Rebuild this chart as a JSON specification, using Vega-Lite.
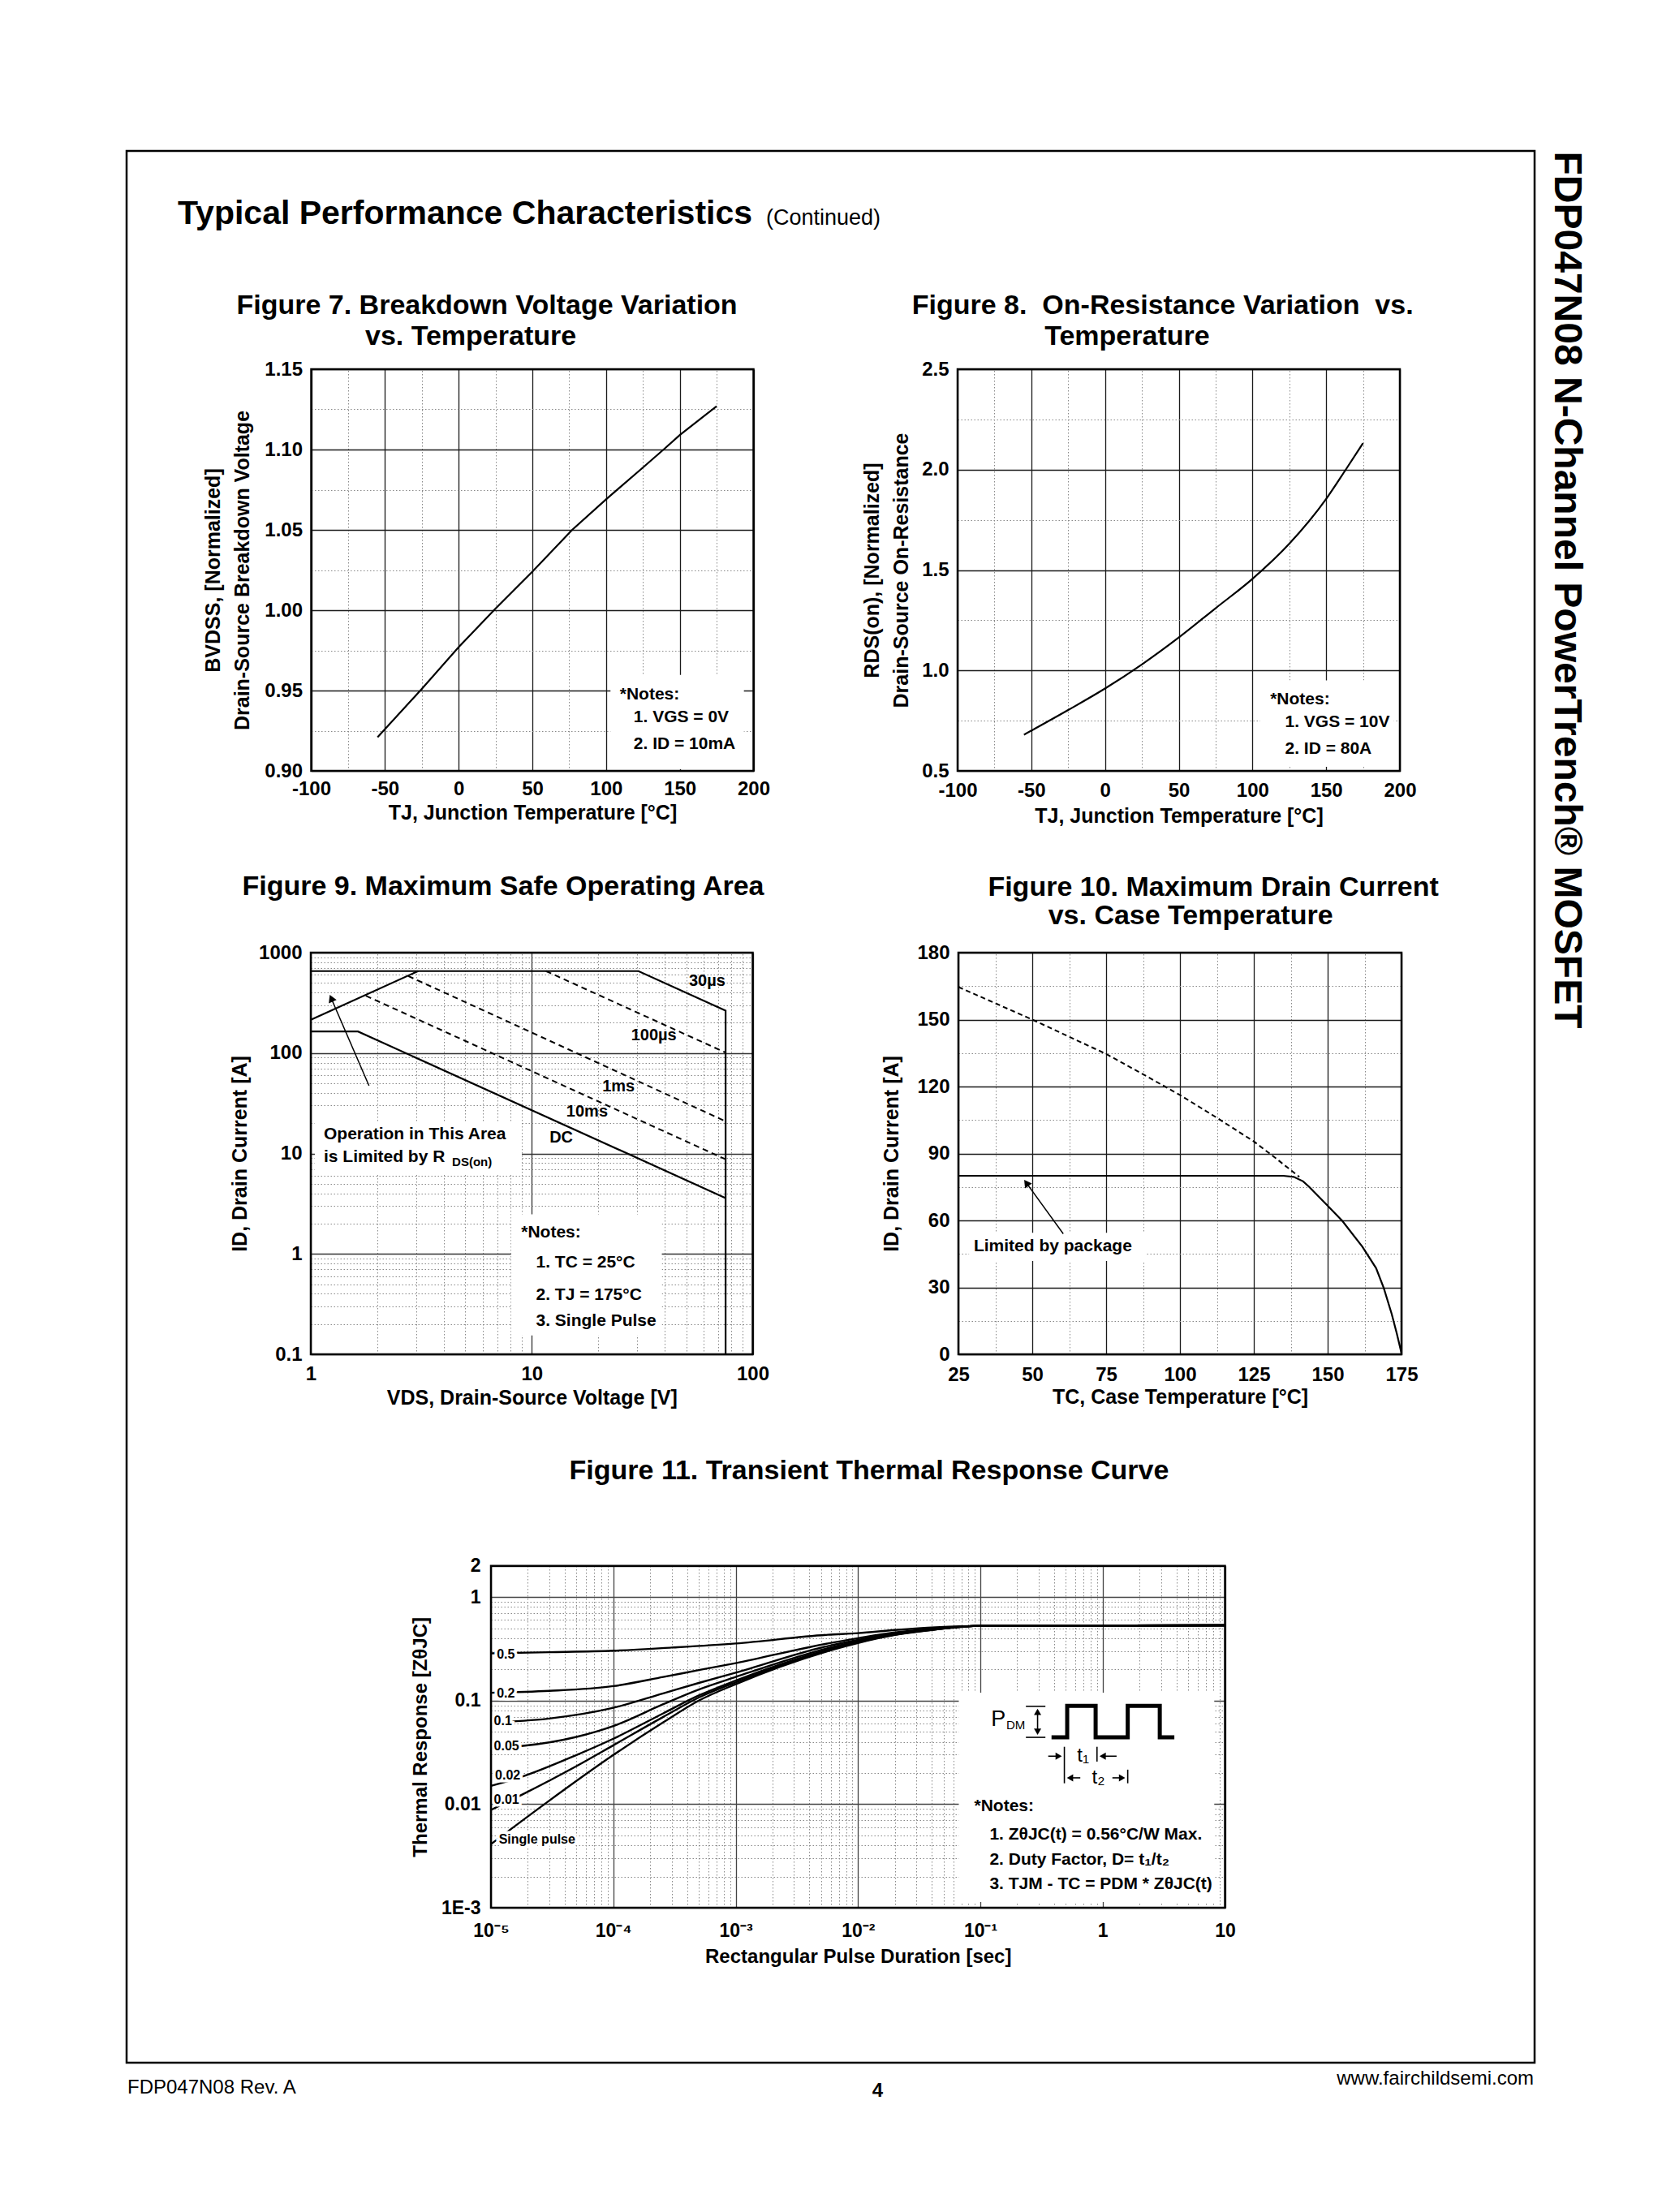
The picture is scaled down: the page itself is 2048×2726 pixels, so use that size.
{
"$schema": "https://vega.github.io/schema/vega-lite/v6.json",
"width": 1735,
"height": 2356,
"autosize": {"type": "none"},
"padding": {"left": 156, "top": 186, "right": 157, "bottom": 184},
"background": "white",
"config": {
  "font": "Liberation Sans",
  "view": {"stroke": "black", "strokeWidth": 2.5},
  "axis": {"labelFont": "Liberation Sans", "titleFont": "Liberation Sans", "labelColor": "black", "titleColor": "black", "labelFontWeight": "bold", "titleFontWeight": "bold", "ticks": false, "domain": false, "grid": false, "labelFlush": false, "labelOverlap": false, "labelBound": false},
  "text": {"font": "Liberation Sans", "fontWeight": "bold", "color": "black", "baseline": "middle"},
  "line": {"color": "black"}
},
"datasets": {
  "f7c": [{"x":-55,"y":0.921},{"x":-25,"y":0.951},{"x":0,"y":0.977},{"x":25,"y":1.001},{"x":50,"y":1.024},{"x":77,"y":1.05},{"x":100,"y":1.069},{"x":124,"y":1.088},{"x":139,"y":1.1},{"x":150,"y":1.109},{"x":175,"y":1.127}],
  "f7frame": [{"x":-100,"x2":200,"y":0.9,"y2":1.15}],
  "f7box": [{"x":103,"x2":193.5,"y":0.901,"y2":0.9597}],
  "f7notes": [{"x":109.3,"y":0.9473,"text":"*Notes:"},{"x":118.7,"y":0.9331,"text":"1. VGS = 0V"},{"x":118.7,"y":0.9167,"text":"2. ID = 10mA"}],
  "f7title": [{"x":19.2,"y":1.1894,"text":"Figure 7. Breakdown Voltage Variation"},{"x":8.2,"y":1.1702,"text":"vs. Temperature"}],
  "pagetitle": [{"x":-190.5,"y":1.2465,"text":"Typical Performance Characteristics"}],
  "pagesub": [{"x":208.5,"y":1.244,"text":"(Continued)"}],
  "f8c": [{"x":-55,"y":0.68},{"x":-25,"y":0.803},{"x":0,"y":0.91},{"x":25,"y":1.03},{"x":50,"y":1.164},{"x":75,"y":1.31},{"x":100,"y":1.456},{"x":125,"y":1.631},{"x":150,"y":1.854},{"x":163.3,"y":2.0},{"x":175,"y":2.132}],
  "f8frame": [{"x":-100,"x2":200,"y":0.5,"y2":2.5}],
  "f8box": [{"x":105.3,"x2":196,"y":0.52,"y2":0.951}],
  "f8notes": [{"x":112,"y":0.857,"text":"*Notes:"},{"x":122.1,"y":0.744,"text":"1. VGS = 10V"},{"x":122.1,"y":0.608,"text":"2. ID = 80A"}],
  "f8title": [{"x":39.1,"y":2.815,"text":"Figure 8.\u00a0 On-Resistance Variation\u00a0 vs."},{"x":15.0,"y":2.6616,"text":"Temperature"}],
  "sidetitle": [{"x":312.8,"y":1.401,"text":"FDP047N08 N-Channel PowerTrench® MOSFET"}],
  "f9solid": [{"g":"env","o":0,"x":1,"y":655},{"g":"env","o":1,"x":30.4,"y":655},{"g":"env","o":2,"x":75.4,"y":265},{"g":"env","o":3,"x":75.4,"y":0.1},{"g":"rds","o":0,"x":1,"y":214},{"g":"rds","o":1,"x":3.06,"y":655},{"g":"dc","o":0,"x":1,"y":164},{"g":"dc","o":1,"x":1.635,"y":164},{"g":"dc","o":2,"x":75.4,"y":3.6}],
  "f9dash": [{"g":"a","o":0,"x":11.6,"y":655},{"g":"a","o":1,"x":75.4,"y":101},{"g":"b","o":0,"x":2.76,"y":585},{"g":"b","o":1,"x":75.4,"y":20.9},{"g":"c","o":0,"x":1.775,"y":372},{"g":"c","o":1,"x":75.4,"y":8.75}],
  "f9arrow": [{"o":0,"x":1.834,"y":47.3},{"o":1,"x":1.237,"y":351}],
  "f9head": [{"x":1.237,"y":351}],
  "f9lab": [{"x":62.2,"y":523,"text":"30µs"},{"x":35.7,"y":151,"text":"100µs"},{"x":24.7,"y":46.4,"text":"1ms"},{"x":17.8,"y":25.9,"text":"10ms"},{"x":13.6,"y":14.5,"text":"DC"}],
  "f9op": [{"x":1.145,"y":15.4,"text":"Operation in This Area"},{"x":1.145,"y":9.16,"text":"is Limited by R"}],
  "f9sub": [{"x":4.36,"y":8.26,"text":"DS(on)"}],
  "f9box": [{"x":1.043,"x2":9.02,"y":6.29,"y2":20.6},{"x":8.06,"x2":38.8,"y":0.154,"y2":2.48}],
  "f9notes": [{"x":8.96,"y":1.62,"text":"*Notes:"},{"x":10.45,"y":0.823,"text":"1. TC = 25°C"},{"x":10.45,"y":0.39,"text":"2. TJ = 175°C"},{"x":10.45,"y":0.2134,"text":"3. Single Pulse"}],
  "f9title": [{"x":7.42,"y":4498,"text":"Figure 9. Maximum Safe Operating Area"}],
  "f9frame": [{"x":1,"x2":100,"y":0.1,"y2":1000}],
  "f10solid": [{"x":25,"y":80},{"x":135,"y":80},{"x":138.5,"y":79.5},{"x":141.7,"y":77.5},{"x":143.7,"y":75.1},{"x":149.7,"y":67},{"x":155,"y":59.7},{"x":161.7,"y":48.3},{"x":166.4,"y":38.6},{"x":169,"y":29.7},{"x":171.7,"y":18},{"x":173.4,"y":9.4},{"x":175,"y":0.5}],
  "f10dash": [{"x":25,"y":164.6},{"x":37.5,"y":157.3},{"x":50,"y":150},{"x":62.5,"y":142.3},{"x":75,"y":134.6},{"x":87.5,"y":125.5},{"x":100,"y":116.2},{"x":112.5,"y":106},{"x":125,"y":95.4},{"x":132.5,"y":87.8},{"x":140.4,"y":79.5}],
  "f10arrow": [{"o":0,"x":60.5,"y":54},{"o":1,"x":48.0,"y":76.8}],
  "f10head": [{"x":48.0,"y":76.8}],
  "f10lab": [{"x":30.2,"y":48.3,"text":"Limited by package"}],
  "f10box": [{"x":28.6,"x2":88.5,"y":41.8,"y2":54.5}],
  "f10title": [{"x":111.3,"y":209.2,"text":"Figure 10. Maximum Drain Current"},{"x":103.6,"y":196.4,"text":"vs. Case Temperature"}],
  "f10frame": [{"x":25,"x2":175,"y":0,"y2":180}],
  "f11c": [
    {"g":"0.5","x":0.00001,"y":0.286},{"g":"0.5","x":0.00003,"y":0.293},{"g":"0.5","x":0.0001,"y":0.303},{"g":"0.5","x":0.0003,"y":0.325},{"g":"0.5","x":0.001,"y":0.356},{"g":"0.5","x":0.00566,"y":0.432},{"g":"0.5","x":0.01,"y":0.448},{"g":"0.5","x":0.02,"y":0.48},{"g":"0.5","x":0.043,"y":0.51},{"g":"0.5","x":0.1,"y":0.527},{"g":"0.5","x":10,"y":0.533},
    {"g":"0.2","x":0.00001,"y":0.119},{"g":"0.2","x":0.00003,"y":0.124},{"g":"0.2","x":0.0001,"y":0.138},{"g":"0.2","x":0.000256,"y":0.169},{"g":"0.2","x":0.0005,"y":0.197},{"g":"0.2","x":0.001,"y":0.23},{"g":"0.2","x":0.00566,"y":0.356},{"g":"0.2","x":0.01,"y":0.4},{"g":"0.2","x":0.02,"y":0.455},{"g":"0.2","x":0.043,"y":0.497},{"g":"0.2","x":0.1,"y":0.527},{"g":"0.2","x":10,"y":0.533},
    {"g":"0.1","x":0.00001,"y":0.0616},{"g":"0.1","x":0.000029,"y":0.0668},{"g":"0.1","x":0.0001,"y":0.0851},{"g":"0.1","x":0.000256,"y":0.1175},{"g":"0.1","x":0.0005,"y":0.148},{"g":"0.1","x":0.001,"y":0.186},{"g":"0.1","x":0.00566,"y":0.336},{"g":"0.1","x":0.01,"y":0.385},{"g":"0.1","x":0.02,"y":0.445},{"g":"0.1","x":0.043,"y":0.492},{"g":"0.1","x":0.1,"y":0.527},{"g":"0.1","x":10,"y":0.533},
    {"g":"0.05","x":0.00001,"y":0.035},{"g":"0.05","x":0.0000177,"y":0.0364},{"g":"0.05","x":0.00005,"y":0.0446},{"g":"0.05","x":0.0001,"y":0.0568},{"g":"0.05","x":0.000256,"y":0.0923},{"g":"0.05","x":0.0005,"y":0.128},{"g":"0.05","x":0.001,"y":0.169},{"g":"0.05","x":0.00566,"y":0.32},{"g":"0.05","x":0.01,"y":0.375},{"g":"0.05","x":0.02,"y":0.44},{"g":"0.05","x":0.043,"y":0.49},{"g":"0.05","x":0.1,"y":0.527},{"g":"0.05","x":10,"y":0.533},
    {"g":"0.02","x":0.00001,"y":0.015},{"g":"0.02","x":0.0000177,"y":0.0183},{"g":"0.02","x":0.00005,"y":0.0298},{"g":"0.02","x":0.0001,"y":0.0428},{"g":"0.02","x":0.000256,"y":0.0753},{"g":"0.02","x":0.0005,"y":0.112},{"g":"0.02","x":0.001,"y":0.156},{"g":"0.02","x":0.00566,"y":0.31},{"g":"0.02","x":0.01,"y":0.37},{"g":"0.02","x":0.02,"y":0.435},{"g":"0.02","x":0.043,"y":0.488},{"g":"0.02","x":0.1,"y":0.527},{"g":"0.02","x":10,"y":0.533},
    {"g":"0.01","x":0.00001,"y":0.0088},{"g":"0.01","x":0.0000177,"y":0.01225},{"g":"0.01","x":0.00005,"y":0.0233},{"g":"0.01","x":0.0001,"y":0.037},{"g":"0.01","x":0.000256,"y":0.0695},{"g":"0.01","x":0.0005,"y":0.107},{"g":"0.01","x":0.001,"y":0.15},{"g":"0.01","x":0.00566,"y":0.305},{"g":"0.01","x":0.01,"y":0.365},{"g":"0.01","x":0.02,"y":0.432},{"g":"0.01","x":0.043,"y":0.486},{"g":"0.01","x":0.1,"y":0.527},{"g":"0.01","x":10,"y":0.533},
    {"g":"sp","x":0.00001,"y":0.00411},{"g":"sp","x":0.0000274,"y":0.01},{"g":"sp","x":0.0001,"y":0.0298},{"g":"sp","x":0.000256,"y":0.0616},{"g":"sp","x":0.0005,"y":0.1},{"g":"sp","x":0.001,"y":0.144},{"g":"sp","x":0.00566,"y":0.3},{"g":"sp","x":0.01,"y":0.36},{"g":"sp","x":0.02,"y":0.43},{"g":"sp","x":0.043,"y":0.485},{"g":"sp","x":0.1,"y":0.527},{"g":"sp","x":10,"y":0.533}
  ],
  "f11lab": [{"x":0.00001115,"y":0.279,"text":"0.5"},{"x":0.00001115,"y":0.1175,"text":"0.2"},{"x":0.00001056,"y":0.0631,"text":"0.1"},{"x":0.00001056,"y":0.0364,"text":"0.05"},{"x":0.0000108,"y":0.0191,"text":"0.02"},{"x":0.00001056,"y":0.011,"text":"0.01"},{"x":0.00001159,"y":0.00453,"text":"Single pulse"}],
  "f11box": [{"x":0.0667,"x2":8.17,"y":0.001135,"y2":0.119}],
  "f11notes": [{"x":0.0892,"y":0.00955,"text":"*Notes:"},{"x":0.119,"y":0.00509,"text":"1. ZθJC(t) = 0.56°C/W Max."},{"x":0.119,"y":0.002877,"text":"2. Duty Factor, D= t₁/t₂"},{"x":0.119,"y":0.001675,"text":"3. TJM - TC = PDM * ZθJC(t)"}],
  "f11wave": [{"o":0,"x":0.382,"y":0.04416},{"o":1,"x":0.513,"y":0.04416},{"o":2,"x":0.513,"y":0.0891},{"o":3,"x":0.876,"y":0.0891},{"o":4,"x":0.876,"y":0.04416},{"o":5,"x":1.603,"y":0.04416},{"o":6,"x":1.603,"y":0.0891},{"o":7,"x":2.93,"y":0.0891},{"o":8,"x":2.93,"y":0.04416},{"o":9,"x":3.855,"y":0.04416}],
  "f11seg": [
    {"g":"pv","o":0,"x":0.2938,"y":0.0501},{"g":"pv","o":1,"x":0.2938,"y":0.0777},
    {"g":"pt","o":0,"x":0.2358,"y":0.0881},{"g":"pt","o":1,"x":0.3404,"y":0.0881},
    {"g":"pb","o":0,"x":0.2358,"y":0.04416},{"g":"pb","o":1,"x":0.3404,"y":0.04416},
    {"g":"v1","o":0,"x":0.4864,"y":0.0159},{"g":"v1","o":1,"x":0.4864,"y":0.0358},
    {"g":"v2","o":0,"x":0.899,"y":0.02576},{"g":"v2","o":1,"x":0.899,"y":0.0358},
    {"g":"v3","o":0,"x":1.603,"y":0.0159},{"g":"v3","o":1,"x":1.603,"y":0.02153},
    {"g":"a1","o":0,"x":0.359,"y":0.02904},{"g":"a1","o":1,"x":0.437,"y":0.02904},
    {"g":"a2","o":0,"x":1.2996,"y":0.02904},{"g":"a2","o":1,"x":1.0,"y":0.02904},
    {"g":"a3","o":0,"x":0.6565,"y":0.01795},{"g":"a3","o":1,"x":0.541,"y":0.01795},
    {"g":"a4","o":0,"x":1.2009,"y":0.01795},{"g":"a4","o":1,"x":1.441,"y":0.01795}
  ],
  "f11heads": [{"x":0.2938,"y":0.0777,"dir":"up"},{"x":0.2938,"y":0.0501,"dir":"down"},{"x":0.437,"y":0.02904,"dir":"right"},{"x":1.0,"y":0.02904,"dir":"left"},{"x":0.541,"y":0.01795,"dir":"left"},{"x":1.441,"y":0.01795,"dir":"right"}],
  "f11t": [{"x":0.692,"y":0.02904,"text":"t₁"},{"x":0.9234,"y":0.01795,"text":"t₂"}],
  "f11P": [{"x":0.1222,"y":0.0653,"text":"P"}],
  "f11DM": [{"x":0.163,"y":0.0579,"text":"DM"}],
  "f11title": [{"x":0.01233,"y":16.43,"text":"Figure 11. Transient Thermal Response Curve"}],
  "f11frame": [{"x":0.00001,"x2":10,"y":0.001,"y2":2}],
  "footL": [{"x":1.067e-8,"y":0.00001817,"text":"FDP047N08 Rev. A"}],
  "footC": [{"x":0.01445,"y":0.0000171,"text":"4"}],
  "footR": [{"x":3342,"y":0.0000222,"text":"www.fairchildsemi.com"}]
},
"layer": [
{
  "encoding": {
    "x": {"field":"x","type":"quantitative","scale":{"domain":[-100,200],"range":[227.5,772.5],"nice":false,"zero":false},"axis":null},
    "y": {"field":"y","type":"quantitative","scale":{"domain":[0.9,1.15],"range":[764,269],"nice":false,"zero":false},"axis":null}
  },
  "layer": [
    {"data":{"name":"f7c"},"mark":{"type":"line","strokeWidth":2.2,"color":"black"},
     "encoding":{
       "x":{"field":"x","type":"quantitative","scale":{"domain":[-100,200],"range":[227.5,772.5],"nice":false,"zero":false},"axis":{"orient":"bottom","offset":-1592,"values":[-100,-50,0,50,100,150,200],"labelExpr":"datum.value < 0 ? '-' + format(-datum.value, 'd') : format(datum.value, 'd')","labelFontSize":24,"labelPadding":10,"title":"TJ, Junction Temperature [°C]","titleFontSize":25,"titlePadding":5}},
       "y":{"field":"y","type":"quantitative","scale":{"domain":[0.9,1.15],"range":[764,269],"nice":false,"zero":false},"axis":{"orient":"left","offset":-227.5,"values":[0.9,0.95,1,1.05,1.1,1.15],"format":".2f","labelFontSize":24,"labelPadding":11,"title":["BVDSS, [Normalized]","Drain-Source Breakdown Voltage"],"titleFontSize":25,"titlePadding":14,"titleLineHeight":36,"grid":true,"gridColor":"#1a1a1a","gridWidth":1.3}}
     }},
    {"data":{"name":"f7box"},"mark":{"type":"rect","color":"white"},
     "encoding":{
       "x":{"field":"x","type":"quantitative","scale":{"domain":[-100,200],"range":[227.5,772.5],"nice":false,"zero":false},"axis":{"orient":"top","grid":true,"gridColor":"#888","gridDash":[1.5,2.5],"gridWidth":1,"labels":false,"ticks":false,"domain":false,"title":null,"values":[-75,-25,25,75,125,175]}},
       "x2":{"field":"x2"},
       "y":{"field":"y","type":"quantitative","scale":{"domain":[0.9,1.15],"range":[764,269],"nice":false,"zero":false},"axis":{"orient":"left","offset":-227.5,"grid":true,"gridColor":"#888","gridDash":[1.5,2.5],"gridWidth":1,"labels":false,"ticks":false,"domain":false,"title":null,"values":[0.925,0.975,1.025,1.075,1.125]}},
       "y2":{"field":"y2"}
     }},
    {"data":{"name":"f7notes"},"mark":{"type":"text","align":"left","fontSize":21},
     "encoding":{
       "x":{"field":"x","type":"quantitative","scale":{"domain":[-100,200],"range":[227.5,772.5],"nice":false,"zero":false},"axis":{"orient":"top","grid":true,"gridColor":"#1a1a1a","gridWidth":1.3,"labels":false,"ticks":false,"domain":false,"title":null,"values":[-100,-50,0,50,100,150,200]}},
       "text":{"field":"text"}
     }},
    {"data":{"name":"f7title"},"mark":{"type":"text","align":"center","fontSize":34},"encoding":{"text":{"field":"text"}}},
    {"data":{"name":"pagetitle"},"mark":{"type":"text","align":"left","fontSize":41},"encoding":{"text":{"field":"text"}}},
    {"data":{"name":"pagesub"},"mark":{"type":"text","align":"left","fontSize":27,"fontWeight":"normal"},"encoding":{"text":{"field":"text"}}},
    {"data":{"name":"f7frame"},"mark":{"type":"rect","fillOpacity":0,"stroke":"black","strokeWidth":2.5},"encoding":{"x2":{"field":"x2"},"y2":{"field":"y2"}}}
  ],
  "resolve": {"axis": {"x":"independent","y":"independent"}}
},
{
  "encoding": {
    "x": {"field":"x","type":"quantitative","scale":{"domain":[-100,200],"range":[1024,1569],"nice":false,"zero":false},"axis":null},
    "y": {"field":"y","type":"quantitative","scale":{"domain":[0.5,2.5],"range":[764,269],"nice":false,"zero":false},"axis":null}
  },
  "layer": [
    {"data":{"name":"f8c"},"mark":{"type":"line","strokeWidth":2.2,"color":"black","interpolate":"monotone"},
     "encoding":{
       "x":{"field":"x","type":"quantitative","scale":{"domain":[-100,200],"range":[1024,1569],"nice":false,"zero":false},"axis":{"orient":"bottom","offset":-1592,"values":[-100,-50,0,50,100,150,200],"labelExpr":"datum.value < 0 ? '-' + format(-datum.value, 'd') : format(datum.value, 'd')","labelFontSize":24,"labelPadding":12,"title":"TJ, Junction Temperature [°C]","titleFontSize":25,"titlePadding":7}},
       "y":{"field":"y","type":"quantitative","scale":{"domain":[0.5,2.5],"range":[764,269],"nice":false,"zero":false},"axis":{"orient":"left","offset":-1024,"values":[0.5,1,1.5,2,2.5],"format":".1f","labelFontSize":24,"labelPadding":11,"title":["RDS(on), [Normalized]","Drain-Source On-Resistance"],"titleFontSize":25,"titlePadding":12,"titleLineHeight":36,"grid":true,"gridColor":"#1a1a1a","gridWidth":1.3}}
     }},
    {"data":{"name":"f8box"},"mark":{"type":"rect","color":"white"},
     "encoding":{
       "x":{"field":"x","type":"quantitative","scale":{"domain":[-100,200],"range":[1024,1569],"nice":false,"zero":false},"axis":{"orient":"top","grid":true,"gridColor":"#888","gridDash":[1.5,2.5],"gridWidth":1,"labels":false,"ticks":false,"domain":false,"title":null,"values":[-75,-25,25,75,125,175]}},
       "x2":{"field":"x2"},
       "y":{"field":"y","type":"quantitative","scale":{"domain":[0.5,2.5],"range":[764,269],"nice":false,"zero":false},"axis":{"orient":"left","offset":-1024,"grid":true,"gridColor":"#888","gridDash":[1.5,2.5],"gridWidth":1,"labels":false,"ticks":false,"domain":false,"title":null,"values":[0.75,1.25,1.75,2.25]}},
       "y2":{"field":"y2"}
     }},
    {"data":{"name":"f8notes"},"mark":{"type":"text","align":"left","fontSize":21},
     "encoding":{
       "x":{"field":"x","type":"quantitative","scale":{"domain":[-100,200],"range":[1024,1569],"nice":false,"zero":false},"axis":{"orient":"top","grid":true,"gridColor":"#1a1a1a","gridWidth":1.3,"labels":false,"ticks":false,"domain":false,"title":null,"values":[-100,-50,0,50,100,150,200]}},
       "text":{"field":"text"}
     }},
    {"data":{"name":"f8title"},"mark":{"type":"text","align":"center","fontSize":34},"encoding":{"text":{"field":"text"}}},
    {"data":{"name":"sidetitle"},"mark":{"type":"text","align":"center","angle":90,"fontSize":48},"encoding":{"text":{"field":"text"}}},
    {"data":{"name":"f8frame"},"mark":{"type":"rect","fillOpacity":0,"stroke":"black","strokeWidth":2.5},"encoding":{"x2":{"field":"x2"},"y2":{"field":"y2"}}}
  ],
  "resolve": {"axis": {"x":"independent","y":"independent"}}
},
{
  "encoding": {
    "x": {"field":"x","type":"quantitative","scale":{"type":"log","domain":[1,100],"range":[227,771.5],"nice":false},"axis":null},
    "y": {"field":"y","type":"quantitative","scale":{"type":"log","domain":[0.1,1000],"range":[1483,988],"nice":false},"axis":null}
  },
  "layer": [
    {"data":{"name":"f9box"},"mark":{"type":"rect","color":"white"},
     "encoding":{
       "x":{"field":"x","type":"quantitative","scale":{"type":"log","domain":[1,100],"range":[227,771.5],"nice":false},"axis":{"orient":"top","grid":true,"gridColor":"#888","gridDash":[1.5,2.5],"gridWidth":1,"labels":false,"ticks":false,"domain":false,"title":null,"values":[2,3,4,5,6,7,8,9,20,30,40,50,60,70,80,90]}},
       "x2":{"field":"x2"},
       "y":{"field":"y","type":"quantitative","scale":{"type":"log","domain":[0.1,1000],"range":[1483,988],"nice":false},"axis":{"orient":"left","offset":-227,"grid":true,"gridColor":"#888","gridDash":[1.5,2.5],"gridWidth":1,"labels":false,"ticks":false,"domain":false,"title":null,"values":[0.2,0.3,0.4,0.5,0.6,0.7,0.8,0.9,2,3,4,5,6,7,8,9,20,30,40,50,60,70,80,90,200,300,400,500,600,700,800,900]}},
       "y2":{"field":"y2"}
     }},
    {"data":{"name":"f9solid"},"mark":{"type":"line","strokeWidth":2.2,"color":"black"},
     "encoding":{
       "x":{"field":"x","type":"quantitative","scale":{"type":"log","domain":[1,100],"range":[227,771.5],"nice":false},"axis":{"orient":"bottom","offset":-873,"values":[1,10,100],"format":"~g","labelFontSize":24,"labelPadding":12,"title":"VDS, Drain-Source Voltage [V]","titleFontSize":25,"titlePadding":5}},
       "y":{"field":"y","type":"quantitative","scale":{"type":"log","domain":[0.1,1000],"range":[1483,988],"nice":false},"axis":{"orient":"left","offset":-227,"values":[0.1,1,10,100,1000],"format":"~g","labelFontSize":24,"labelPadding":11,"title":"ID, Drain Current [A]","titleFontSize":25,"titlePadding":10,"grid":true,"gridColor":"#333","gridWidth":1.3}},
       "detail":{"field":"g"},
       "order":{"field":"o"}
     }},
    {"data":{"name":"f9dash"},"mark":{"type":"line","strokeWidth":2,"color":"black","strokeDash":[7,5]},
     "encoding":{
       "x":{"field":"x","type":"quantitative","scale":{"type":"log","domain":[1,100],"range":[227,771.5],"nice":false},"axis":{"orient":"top","grid":true,"gridColor":"#333","gridWidth":1.3,"labels":false,"ticks":false,"domain":false,"title":null,"values":[1,10,100]}},
       "detail":{"field":"g"},
       "order":{"field":"o"}
     }},
    {"data":{"name":"f9arrow"},"mark":{"type":"line","strokeWidth":1.5,"color":"black"},"encoding":{"order":{"field":"o"}}},
    {"data":{"name":"f9head"},"mark":{"type":"point","shape":"triangle-up","filled":true,"size":110,"angle":336.7,"color":"black","opacity":1}},
    {"data":{"name":"f9lab"},"mark":{"type":"text","align":"center","fontSize":20},"encoding":{"text":{"field":"text"}}},
    {"data":{"name":"f9op"},"mark":{"type":"text","align":"left","fontSize":21},"encoding":{"text":{"field":"text"}}},
    {"data":{"name":"f9sub"},"mark":{"type":"text","align":"left","fontSize":15},"encoding":{"text":{"field":"text"}}},
    {"data":{"name":"f9notes"},"mark":{"type":"text","align":"left","fontSize":21},"encoding":{"text":{"field":"text"}}},
    {"data":{"name":"f9title"},"mark":{"type":"text","align":"center","fontSize":34},"encoding":{"text":{"field":"text"}}},
    {"data":{"name":"f9frame"},"mark":{"type":"rect","fillOpacity":0,"stroke":"black","strokeWidth":2.5},"encoding":{"x2":{"field":"x2"},"y2":{"field":"y2"}}}
  ],
  "resolve": {"axis": {"x":"independent","y":"independent"}}
},
{
  "encoding": {
    "x": {"field":"x","type":"quantitative","scale":{"domain":[25,175],"range":[1025,1571],"nice":false,"zero":false},"axis":null},
    "y": {"field":"y","type":"quantitative","scale":{"domain":[0,180],"range":[1483,988],"nice":false,"zero":false},"axis":null}
  },
  "layer": [
    {"data":{"name":"f10box"},"mark":{"type":"rect","color":"white"},
     "encoding":{
       "x":{"field":"x","type":"quantitative","scale":{"domain":[25,175],"range":[1025,1571],"nice":false,"zero":false},"axis":{"orient":"top","grid":true,"gridColor":"#888","gridDash":[1.5,2.5],"gridWidth":1,"labels":false,"ticks":false,"domain":false,"title":null,"values":[37.5,62.5,87.5,112.5,137.5,162.5]}},
       "x2":{"field":"x2"},
       "y":{"field":"y","type":"quantitative","scale":{"domain":[0,180],"range":[1483,988],"nice":false,"zero":false},"axis":{"orient":"left","offset":-1025,"grid":true,"gridColor":"#888","gridDash":[1.5,2.5],"gridWidth":1,"labels":false,"ticks":false,"domain":false,"title":null,"values":[15,45,75,105,135,165]}},
       "y2":{"field":"y2"}
     }},
    {"data":{"name":"f10solid"},"mark":{"type":"line","strokeWidth":2.2,"color":"black"},
     "encoding":{
       "x":{"field":"x","type":"quantitative","scale":{"domain":[25,175],"range":[1025,1571],"nice":false,"zero":false},"axis":{"orient":"bottom","offset":-873,"values":[25,50,75,100,125,150,175],"labelFontSize":24,"labelPadding":13,"title":"TC, Case Temperature [°C]","titleFontSize":25,"titlePadding":3}},
       "y":{"field":"y","type":"quantitative","scale":{"domain":[0,180],"range":[1483,988],"nice":false,"zero":false},"axis":{"orient":"left","offset":-1025,"values":[0,30,60,90,120,150,180],"format":"d","labelFontSize":24,"labelPadding":11,"title":"ID, Drain Current [A]","titleFontSize":25,"titlePadding":18,"grid":true,"gridColor":"#1a1a1a","gridWidth":1.3}}
     }},
    {"data":{"name":"f10dash"},"mark":{"type":"line","strokeWidth":2,"color":"black","strokeDash":[6,4]},
     "encoding":{
       "x":{"field":"x","type":"quantitative","scale":{"domain":[25,175],"range":[1025,1571],"nice":false,"zero":false},"axis":{"orient":"top","grid":true,"gridColor":"#1a1a1a","gridWidth":1.3,"labels":false,"ticks":false,"domain":false,"title":null,"values":[25,50,75,100,125,150,175]}}
     }},
    {"data":{"name":"f10lab"},"mark":{"type":"text","align":"left","fontSize":21},"encoding":{"text":{"field":"text"}}},
    {"data":{"name":"f10arrow"},"mark":{"type":"line","strokeWidth":1.5,"color":"black"},"encoding":{"order":{"field":"o"}}},
    {"data":{"name":"f10head"},"mark":{"type":"point","shape":"triangle-up","filled":true,"size":110,"angle":324.1,"color":"black","opacity":1}},
    {"data":{"name":"f10title"},"mark":{"type":"text","align":"center","fontSize":34},"encoding":{"text":{"field":"text"}}},
    {"data":{"name":"f10frame"},"mark":{"type":"rect","fillOpacity":0,"stroke":"black","strokeWidth":2.5},"encoding":{"x2":{"field":"x2"},"y2":{"field":"y2"}}}
  ],
  "resolve": {"axis": {"x":"independent","y":"independent"}}
},
{
  "encoding": {
    "x": {"field":"x","type":"quantitative","scale":{"type":"log","domain":[0.00001,10],"range":[449,1353.5],"nice":false},"axis":null},
    "y": {"field":"y","type":"quantitative","scale":{"type":"log","domain":[0.001,2],"range":[2165,1743.7],"nice":false},"axis":null}
  },
  "layer": [
    {"data":{"name":"f11box"},"mark":{"type":"rect","color":"white"},
     "encoding":{
       "x":{"field":"x","type":"quantitative","scale":{"type":"log","domain":[0.00001,10],"range":[449,1353.5],"nice":false},"axis":{"orient":"top","grid":true,"gridColor":"#888","gridDash":[1.5,2.5],"gridWidth":1,"labels":false,"ticks":false,"domain":false,"title":null,"values":[0.00002,0.00003,0.00004,0.00005,0.00006,0.00007,0.00008,0.00009,0.0002,0.0003,0.0004,0.0005,0.0006,0.0007,0.0008,0.0009,0.002,0.003,0.004,0.005,0.006,0.007,0.008,0.009,0.02,0.03,0.04,0.05,0.06,0.07,0.08,0.09,0.2,0.3,0.4,0.5,0.6,0.7,0.8,0.9,2,3,4,5,6,7,8,9]}},
       "x2":{"field":"x2"},
       "y":{"field":"y","type":"quantitative","scale":{"type":"log","domain":[0.001,2],"range":[2165,1743.7],"nice":false},"axis":{"orient":"left","offset":-449,"grid":true,"gridColor":"#888","gridDash":[1.5,2.5],"gridWidth":1,"labels":false,"ticks":false,"domain":false,"title":null,"values":[0.002,0.003,0.004,0.005,0.006,0.007,0.008,0.009,0.02,0.03,0.04,0.05,0.06,0.07,0.08,0.09,0.2,0.3,0.4,0.5,0.6,0.7,0.8,0.9]}},
       "y2":{"field":"y2"}
     }},
    {"data":{"name":"f11c"},"mark":{"type":"line","strokeWidth":2.4,"color":"black","interpolate":"monotone"},
     "encoding":{
       "x":{"field":"x","type":"quantitative","scale":{"type":"log","domain":[0.00001,10],"range":[449,1353.5],"nice":false},"axis":{"orient":"bottom","offset":-191,"values":[0.00001,0.0001,0.001,0.01,0.1,1,10],"labelExpr":"datum.value < 0.00002 ? '10⁻⁵' : datum.value < 0.0002 ? '10⁻⁴' : datum.value < 0.002 ? '10⁻³' : datum.value < 0.02 ? '10⁻²' : datum.value < 0.2 ? '10⁻¹' : datum.value < 2 ? '1' : '10'","labelFontSize":23,"labelPadding":17,"title":"Rectangular Pulse Duration [sec]","titleFontSize":24,"titlePadding":8}},
       "y":{"field":"y","type":"quantitative","scale":{"type":"log","domain":[0.001,2],"range":[2165,1743.7],"nice":false},"axis":{"orient":"left","offset":-449,"values":[0.001,0.01,0.1,1,2],"labelExpr":"datum.value < 0.005 ? '1E-3' : format(datum.value, '~g')","labelFontSize":23,"labelPadding":13,"title":"Thermal Response [ZθJC]","titleFontSize":24,"titlePadding":13,"grid":true,"gridColor":"#444","gridWidth":1.3}},
       "detail":{"field":"g"}
     }},
    {"data":{"name":"f11lab"},"mark":{"type":"text","align":"left","fontSize":16,"fill":"white","stroke":"white","strokeWidth":7},
     "encoding":{
       "x":{"field":"x","type":"quantitative","scale":{"type":"log","domain":[0.00001,10],"range":[449,1353.5],"nice":false},"axis":{"orient":"top","grid":true,"gridColor":"#444","gridWidth":1.3,"labels":false,"ticks":false,"domain":false,"title":null,"values":[0.00001,0.0001,0.001,0.01,0.1,1,10]}},
       "text":{"field":"text"}
     }},
    {"data":{"name":"f11lab"},"mark":{"type":"text","align":"left","fontSize":16},"encoding":{"text":{"field":"text"}}},
    {"data":{"name":"f11notes"},"mark":{"type":"text","align":"left","fontSize":21},"encoding":{"text":{"field":"text"}}},
    {"data":{"name":"f11wave"},"mark":{"type":"line","strokeWidth":5,"color":"black","strokeJoin":"miter","strokeCap":"butt"},"encoding":{"order":{"field":"o"}}},
    {"data":{"name":"f11seg"},"mark":{"type":"line","strokeWidth":1.6,"color":"black"},"encoding":{"detail":{"field":"g"},"order":{"field":"o"}}},
    {"data":{"name":"f11heads"},"mark":{"type":"point","filled":true,"size":80,"color":"black","opacity":1},
     "encoding":{"shape":{"field":"dir","type":"nominal","scale":{"domain":["up","down","left","right"],"range":["triangle-up","triangle-down","triangle-left","triangle-right"]},"legend":null}}},
    {"data":{"name":"f11t"},"mark":{"type":"text","align":"center","fontSize":24,"fontWeight":"normal"},"encoding":{"text":{"field":"text"}}},
    {"data":{"name":"f11P"},"mark":{"type":"text","align":"left","fontSize":27,"fontWeight":"normal"},"encoding":{"text":{"field":"text"}}},
    {"data":{"name":"f11DM"},"mark":{"type":"text","align":"left","fontSize":15,"fontWeight":"normal"},"encoding":{"text":{"field":"text"}}},
    {"data":{"name":"f11title"},"mark":{"type":"text","align":"center","fontSize":34},"encoding":{"text":{"field":"text"}}},
    {"data":{"name":"footL"},"mark":{"type":"text","align":"left","fontSize":24,"fontWeight":"normal"},"encoding":{"text":{"field":"text"}}},
    {"data":{"name":"footC"},"mark":{"type":"text","align":"center","fontSize":24},"encoding":{"text":{"field":"text"}}},
    {"data":{"name":"footR"},"mark":{"type":"text","align":"right","fontSize":24,"fontWeight":"normal"},"encoding":{"text":{"field":"text"}}},
    {"data":{"name":"f11frame"},"mark":{"type":"rect","fillOpacity":0,"stroke":"black","strokeWidth":2.5},"encoding":{"x2":{"field":"x2"},"y2":{"field":"y2"}}}
  ],
  "resolve": {"axis": {"x":"independent","y":"independent"}}
}
],
"resolve": {"scale": {"x":"independent","y":"independent"}, "axis": {"x":"independent","y":"independent"}}
}
